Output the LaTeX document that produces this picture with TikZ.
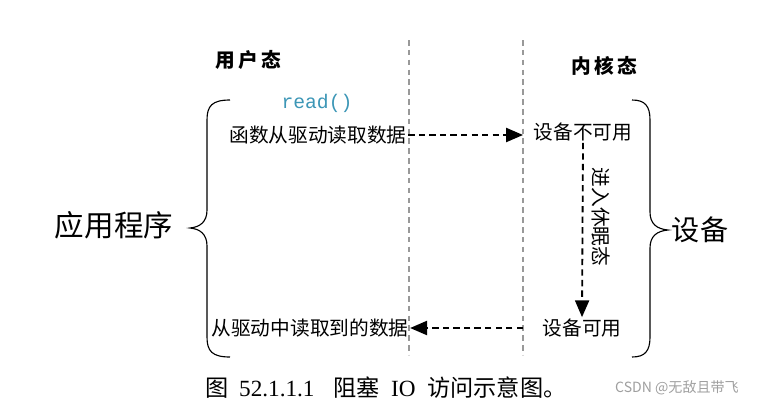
\documentclass[tikz,border=0pt]{standalone}
\usepackage{fontspec}
\setmainfont{Liberation Serif}
\setmonofont{Liberation Mono}
\newfontfamily\cjk{Noto Sans CJK SC}
\usepackage{xcolor}
\usetikzlibrary{positioning,arrows.meta}
\definecolor{readblue}{RGB}{60,150,182}
\tikzset{
    body text/.style={font=\cjk\fontsize{14}{16}\selectfont, inner sep=1pt},
    big text/.style={font=\cjk\fontsize{21}{24}\selectfont, inner sep=1pt},
    title text/.style={font=\cjk\bfseries\fontsize{14}{16}\selectfont, inner sep=1pt},
    divider/.style={draw=gray!80, line width=0.8pt, dash pattern=on 4pt off 3pt},
    flow/.style={line width=1.3pt, dash pattern=on 4.5pt off 3pt, -{Triangle[length=12pt,width=10pt]}},
    curly/.style={line width=0.8pt}
}

\begin{document}
\begin{tikzpicture}[x=0.025cm, y=-0.025cm]
    \useasboundingbox (0,0) rectangle (781,409);

    % 分隔线
    \coordinate (ut) at (409,40);
    \coordinate (ub) at (409,355);
    \coordinate (kt) at (523,40);
    \coordinate (kb) at (523,355);
    \draw[divider] (ut) -- (ub);
    \draw[divider] (kt) -- (kb);

    % 标题
    \node[title text] (user) at (248,60) {用\,户\,态};
    \node[title text] (kernel) at (604,66) {内\,核\,态};

    % 用户态一侧
    \node[font=\ttfamily\fontsize{14}{16}\selectfont, text=readblue] (readfn) at (317,103) {read()};
    \node[body text] (callread) at (318,135) {函数从驱动读取数据};
    \node[body text] (gotdata) at (310,328) {从驱动中读取到的数据};

    % 内核态一侧
    \node[body text] (devbusy) at (583,132) {设备不可用};
    \node[body text] (devready) at (582,328) {设备可用};
    \node[body text, rotate=-90] (sleep) at (601,217) {进入休眠态};

    % 箭头
    \draw[flow] (callread.east) -- (callread.east -| kt);
    \draw[flow] (devbusy.south) -- (devready.north);
    \draw[flow] (gotdata.east -| kt) -- (gotdata.east);

    % 大括号
    \draw[curly] (230,100) .. controls (212,100) and (207,106) .. (207,120)
        -- (207,210) .. controls (207,222) and (200,227) .. (190,228)
        .. controls (200,229) and (207,234) .. (207,246)
        -- (207,337) .. controls (207,351) and (212,357) .. (230,357);
    \draw[curly] (632,100) .. controls (645,100) and (650,106) .. (650,120)
        -- (650,212) .. controls (650,224) and (657,229) .. (668,230)
        .. controls (657,231) and (650,236) .. (650,248)
        -- (650,337) .. controls (650,351) and (645,357) .. (632,357);
    \node[big text] (app) at (114,225) {应用程序};
    \node[big text, font=\cjk\fontsize{20}{24}\selectfont] (device) at (700,230) {设备};

    % 图注
    \node[font=\fontsize{16.5}{18}\selectfont, inner sep=1pt] (caption) at (386,388)
        {{\cjk 图}\hspace{0.45em}52.1.1.1\hspace{0.8em}{\cjk 阻塞}\hspace{0.5em}IO\hspace{0.5em}{\cjk 访问示意图。}};
    \node[font=\cjk\fontsize{10}{12}\selectfont, text=gray!75, inner sep=1pt] (mark) at (677,388) {CSDN @无敌且带飞};

\end{tikzpicture}
\end{document}
